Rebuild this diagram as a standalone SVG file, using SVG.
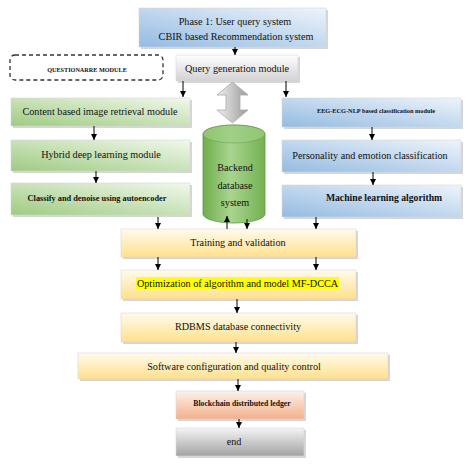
<svg xmlns="http://www.w3.org/2000/svg" width="474" height="465" viewBox="0 0 474 465">
<defs>
<linearGradient id="gBlue" x1="1" y1="0" x2="0" y2="1"><stop offset="0" stop-color="#eef4fb"/><stop offset="1" stop-color="#94bbe2"/></linearGradient>
<linearGradient id="gGreen" x1="1" y1="0" x2="0" y2="1"><stop offset="0" stop-color="#f1f8ec"/><stop offset="1" stop-color="#9fcb82"/></linearGradient>
<linearGradient id="gYellow" x1="0" y1="0" x2="0" y2="1"><stop offset="0" stop-color="#fffbec"/><stop offset="1" stop-color="#ffe08c"/></linearGradient>
<linearGradient id="gSalmon" x1="0" y1="0" x2="0" y2="1"><stop offset="0" stop-color="#fdf1ea"/><stop offset="1" stop-color="#f3b08a"/></linearGradient>
<linearGradient id="gEnd" x1="0" y1="0" x2="0" y2="1"><stop offset="0" stop-color="#f4f4f4"/><stop offset="1" stop-color="#a2a2a2"/></linearGradient>
<linearGradient id="gQuery" x1="0" y1="0" x2="0" y2="1"><stop offset="0" stop-color="#ffffff"/><stop offset="1" stop-color="#d2d2d2"/></linearGradient>
<linearGradient id="gCyl" x1="0" y1="0" x2="1" y2="0"><stop offset="0" stop-color="#6fae4c"/><stop offset="0.45" stop-color="#a9d58f"/><stop offset="1" stop-color="#72b150"/></linearGradient>
<linearGradient id="gArrow" x1="0" y1="0" x2="1" y2="0"><stop offset="0" stop-color="#f0f0f0"/><stop offset="1" stop-color="#9a9a9a"/></linearGradient>
<marker id="ah" viewBox="0 0 6 6" refX="6" refY="3" markerWidth="6" markerHeight="6" markerUnits="userSpaceOnUse" orient="auto"><path d="M0,0 L6,3 L0,6 z" fill="#000"/></marker>
</defs>
<style>
.sh{fill:#c4c4c4;opacity:0.7}
.bx{stroke:#d8d8d8;stroke-width:0.6}
.t{font-family:"Liberation Serif","DejaVu Serif",serif;font-size:10.2px;fill:#111;text-anchor:middle}
.b{font-weight:bold}
.c line{stroke:#000;stroke-width:1;marker-end:url(#ah)}
</style>
<rect width="474" height="465" fill="#fff"/>

<g id="phase1"><rect class="sh" x="141" y="10" width="187" height="39"/><rect class="bx" x="139" y="8" width="187" height="39" fill="url(#gBlue)"/><text class="t" x="235" y="25">Phase 1: User query system</text><text class="t" x="236" y="40">CBIR based Recommendation system</text></g>

<g id="questionarre"><rect x="10" y="55" width="153" height="25" rx="5" fill="#fff" stroke="#333" stroke-width="1.3" stroke-dasharray="4,3"/><text class="t b" x="87" y="72" style="font-size:6.2px">QUESTIONARRE MODULE</text></g>

<g id="query"><rect class="sh" x="178" y="57" width="122" height="26"/><rect class="bx" x="176" y="55" width="122" height="26" fill="url(#gQuery)"/><text class="t" x="237" y="71.5">Query generation module</text></g>

<g id="content"><rect class="sh" x="13" y="100" width="179" height="28"/><rect class="bx" x="11" y="98" width="179" height="28" fill="url(#gGreen)"/><text class="t" x="100" y="115">Content based image retrieval module</text></g>
<g id="hybrid"><rect class="sh" x="13" y="142" width="179" height="31"/><rect class="bx" x="11" y="140" width="179" height="31" fill="url(#gGreen)"/><text class="t" x="101" y="158">Hybrid deep learning module</text></g>
<g id="classify"><rect class="sh" x="13" y="185" width="179" height="32"/><rect class="bx" x="11" y="183" width="179" height="32" fill="url(#gGreen)"/><text class="t b" x="97" y="201" style="font-size:8.3px">Classify and denoise using autoencoder</text></g>

<g id="eeg"><rect class="sh" x="284" y="100" width="179" height="29"/><rect class="bx" x="282" y="98" width="179" height="29" fill="url(#gBlue)"/><text class="t b" x="376" y="112.5" style="font-size:6.3px">EEG-ECG-NLP based classification module</text></g>
<g id="personality"><rect class="sh" x="284" y="142" width="179" height="32"/><rect class="bx" x="282" y="140" width="179" height="32" fill="url(#gBlue)"/><text class="t" x="370" y="158.5">Personality and emotion classification</text></g>
<g id="machine"><rect class="sh" x="284" y="187" width="179" height="32"/><rect class="bx" x="282" y="185" width="179" height="32" fill="url(#gBlue)"/><text class="t b" x="384" y="200.5" style="font-size:9.7px">Machine learning algorithm</text></g>

<g id="doublearrow"><polygon points="232.5,82 248,95 240,95 240,110 248,110 232.5,123 217,110 226,110 226,95 217,95" fill="url(#gArrow)" stroke="#a8a8a8" stroke-width="0.8"/></g>

<g id="backend"><path d="M203,134 A31,9 0 0 1 265,134 L265,214 A31,9 0 0 1 203,214 Z" fill="url(#gCyl)" stroke="#5f9441" stroke-width="0.8"/><ellipse cx="234" cy="134" rx="31" ry="9" fill="#9dce82" stroke="#5f9441" stroke-width="0.6" opacity="0.7"/><text class="t" x="235" y="171">Backend</text><text class="t" x="235" y="189">database</text><text class="t" x="235" y="206">system</text></g>

<g id="training"><rect class="sh" x="123" y="231" width="235" height="28"/><rect class="bx" x="121" y="229" width="235" height="28" fill="url(#gYellow)"/><text class="t" x="238" y="245.5">Training and validation</text></g>
<g id="optimization"><rect class="sh" x="123" y="272" width="235" height="29"/><rect class="bx" x="121" y="270" width="235" height="29" fill="url(#gYellow)"/><rect x="136" y="277" width="203" height="12" fill="#ffff00"/><text class="t" x="237.5" y="286.5">Optimization of algorithm and model MF-DCCA</text></g>
<g id="rdbms"><rect class="sh" x="123" y="315" width="235" height="29"/><rect class="bx" x="121" y="313" width="235" height="29" fill="url(#gYellow)"/><text class="t" x="238" y="329.5">RDBMS database connectivity</text></g>
<g id="software"><rect class="sh" x="80" y="355" width="310" height="26"/><rect class="bx" x="78" y="353" width="310" height="26" fill="url(#gYellow)"/><text class="t" x="234" y="370">Software configuration and quality control</text></g>
<g id="blockchain"><rect class="sh" x="178" y="393" width="128" height="28"/><rect class="bx" x="176" y="391" width="128" height="28" fill="url(#gSalmon)"/><text class="t b" x="242" y="406" style="font-size:7.7px">Blockchain distributed ledger</text></g>
<g id="end"><rect class="sh" x="178" y="430" width="128" height="28"/><rect class="bx" x="176" y="428" width="128" height="28" fill="url(#gEnd)"/><text class="t" x="234" y="444.5">end</text></g>

<g id="connectors" class="c">
<line x1="235" y1="47" x2="235" y2="55"/>
<line x1="183" y1="81" x2="183" y2="97"/>
<line x1="286" y1="81" x2="286" y2="97"/>
<line x1="94" y1="126" x2="94" y2="140"/>
<line x1="96" y1="171" x2="96" y2="183"/>
<line x1="158" y1="217" x2="158" y2="229"/>
<line x1="372" y1="127" x2="372" y2="140"/>
<line x1="373" y1="172" x2="373" y2="185"/>
<line x1="316" y1="217" x2="316" y2="229"/>
<line x1="227" y1="229" x2="227" y2="216"/>
<line x1="247" y1="219" x2="247" y2="229"/>
<line x1="158" y1="257" x2="158" y2="270"/>
<line x1="316" y1="257" x2="316" y2="270"/>
<line x1="237" y1="299" x2="237" y2="313"/>
<line x1="236" y1="342" x2="236" y2="353"/>
<line x1="238" y1="379" x2="238" y2="391"/>
<line x1="239" y1="419" x2="239" y2="428"/>
</g>
</svg>
